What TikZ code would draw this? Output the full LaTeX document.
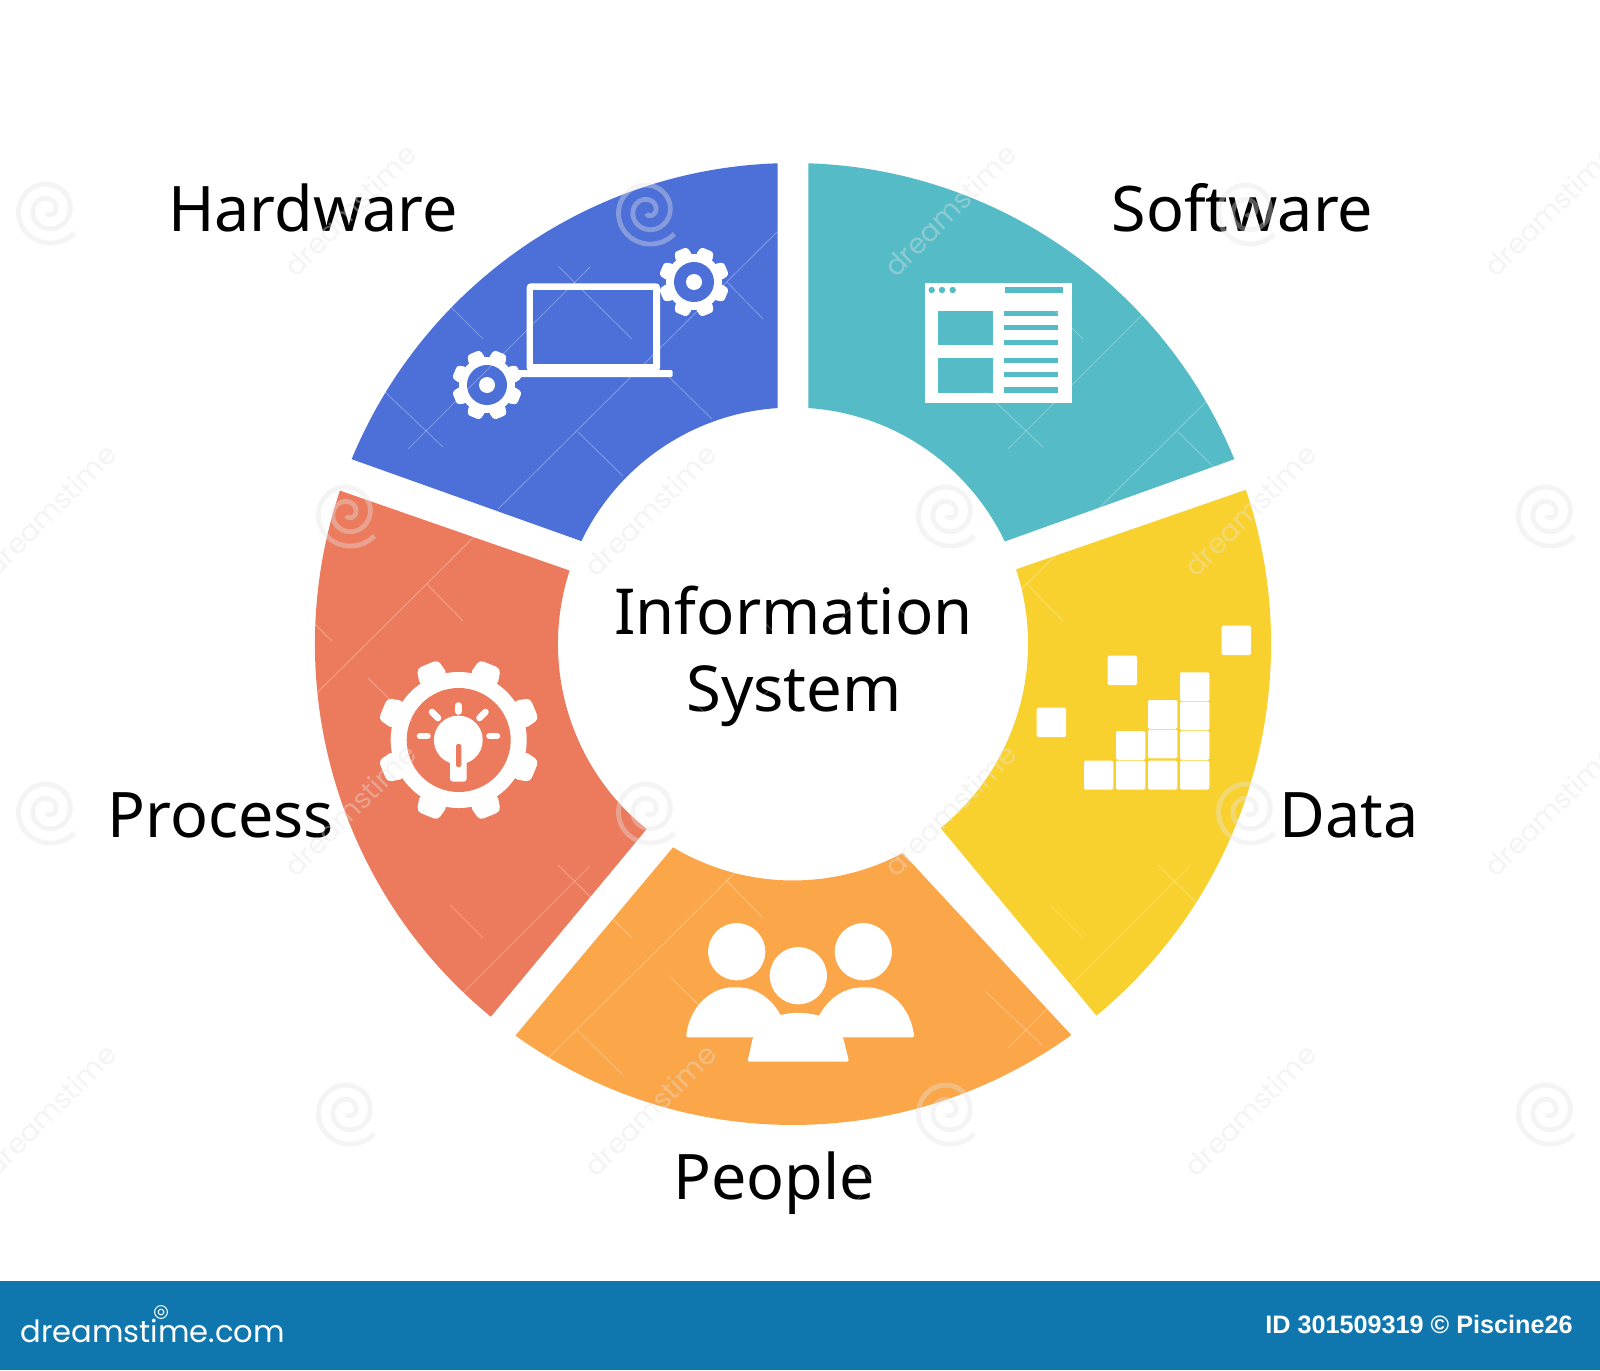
\documentclass[tikz,border=0pt]{standalone}
\usepackage{fontspec}
\setmainfont{Noto Sans}
\newfontfamily\footfont{Liberation Sans}
\newfontfamily\logofont{Poppins}
\definecolor{cblue}{HTML}{4C6FD8}
\definecolor{cteal}{HTML}{55BBC6}
\definecolor{cyellow}{HTML}{F9D12F}
\definecolor{corange}{HTML}{FBA648}
\definecolor{cred}{HTML}{EC7A5C}
\definecolor{cfoot}{HTML}{0F77AE}
\definecolor{cwm}{HTML}{E4E4E4}
\tikzset{
  lbl/.style={anchor=base,inner sep=0pt,text=black,font=\fontsize{31.4}{37}\selectfont},
  lblc/.style={anchor=base,inner sep=0pt,text=black,font=\fontsize{31.7}{37}\selectfont},
  wmline/.style={draw=white,opacity=0.28,line width=0.5pt},
  wmspiral/.style={draw=cwm,opacity=0.38,line width=2.4pt},
  wmtext/.style={inner sep=0pt,text=cwm,text opacity=0.38,rotate=45,font=\logofont\fontsize{14}{16}\selectfont},
}
% segment: colour, outer a1, outer a2, inner a2, inner a1
\newcommand{\segm}[5]{\fill[#1] (#2:240pt) arc[start angle=#2,end angle=#3,radius=240pt] -- (#4:118pt) arc[start angle=#4,end angle=#5,radius=118pt] -- cycle;}
% gear: cx, cy, tip, body, hole, toothw, colour, rotation, corner
\newcommand{\cog}[9]{%
  \begin{scope}[shift={(#1,#2)},rotate=#8]
    \pgfmathsetmacro{\hw}{#6/2}\pgfmathsetmacro{\tw}{#6*0.38}\pgfmathsetmacro{\bs}{#4-3}
    \foreach \ang in {0,45,...,315}{
      \fill[white,rounded corners=#9,rotate=\ang] (-\hw,\bs) -- (-\tw,#3) -- (\tw,#3) -- (\hw,\bs) -- cycle;
    }
    \fill[white] (0,0) circle[radius=#4*0.5pt];
    \fill[#7] (0,0) circle[radius=#5*0.5pt];
  \end{scope}}
\begin{document}
\begin{tikzpicture}[x=0.5pt,y=-0.5pt]
\useasboundingbox (0,0) rectangle (1600,1370);
\fill[white] (0,0) rectangle (1600,1370);
% ring
\begin{scope}[shift={(793,644)},xscale=0.996,yscale=1.002]
  \segm{cblue}{91.84}{157.4}{154.2}{93.76}
  \segm{cteal}{88.16}{22.6}{25.7}{86.24}
  \segm{cyellow}{18.7}{-50.6}{-51.1}{18.4}
  \segm{corange}{-54.4}{-125.5}{-120.7}{-62.2}
  \segm{cred}{230.8}{161.4}{161.9}{231.5}
\end{scope}
% hardware icon
\cog{694}{282}{35}{28}{20}{18}{cblue}{22.5}{1.5pt}
\cog{487}{385}{35}{28}{20}{18}{cblue}{22.5}{1.5pt}
\fill[white] (694,282) circle[radius=4pt];
\fill[white] (487,385) circle[radius=4pt];
\fill[white,rounded corners=2pt] (526.7,283.3) rectangle (660,372);
\fill[cblue] (533,290) rectangle (653,364);
\fill[white,rounded corners=1pt] (510,370) rectangle (672.7,377);
% software icon
\fill[white] (925,283.3) rectangle (1071.7,403.3);
\foreach \px in {931.7,942,952.7}{\fill[cteal] (\px,290) circle[radius=1.6pt];}
\fill[cteal] (1005,286.7) rectangle (1062.7,293.3);
\fill[cteal] (938.3,310.7) rectangle (992.7,345.3);
\fill[cteal] (938.3,357.7) rectangle (992.7,392.7);
\foreach \py in {313.3,327.3,342.7,360.7,374.3,390}{\fill[cteal] (1003.7,\py-2.7) rectangle (1058,\py+2.7);}
% data icon
\foreach \px/\py in {1221.7/625.7,1107.7/655.7,1036.7/707.7}{\fill[white,rounded corners=0.7pt] (\px,\py) rectangle ++(29.3,29.3);}
\foreach \px/\py in {1084/760.7,1116/760.7,1148/760.7,1180/760.7,1116/731,1148/729.5,1180/731,1148/700,1180/701.5,1180/672.3}{\fill[white,rounded corners=0.7pt] (\px,\py) rectangle ++(29.3,28.8);}
% people icon
\fill[white] (736.7,951.7) circle[radius=14.3pt];
\fill[white] (863.3,951.7) circle[radius=14.3pt];
\fill[white] (798.3,975.7) circle[radius=14.3pt];
\fill[white,rounded corners=1pt] (686,1037.3) .. controls (690,1005) and (712,987.3) .. (735,987.3) .. controls (760,987.3) and (775,1003) .. (783,1020) -- (783,1037.3) -- cycle;
\fill[white,rounded corners=1pt] (914.3,1037.3) .. controls (910,1005) and (888,987.3) .. (865,987.3) .. controls (840,987.3) and (825,1003) .. (817,1020) -- (817,1037.3) -- cycle;
\fill[white,rounded corners=1pt] (747.5,1061.7) -- (753,1037) -- (778,1016) .. controls (790,1012) and (806,1012) .. (820,1016) -- (843,1037) -- (849,1061.7) -- cycle;
% process icon
\cog{458.7}{740}{82}{68}{52}{30}{cred}{22.5}{2.2pt}
\fill[white] (458.3,740) circle[radius=12.2pt];
\fill[white,rounded corners=1.5pt] (450,755) rectangle (466.7,781.7);
\fill[cred,rounded corners=1pt] (456,744) rectangle (461.3,767);
\foreach \xa/\ya/\xb/\yb in {458.3/705.5/458.3/711.5,432/712/438/718,485.5/712/479.5/718,420/736/427.5/736,489.5/736/497/736}{
  \draw[white,line width=3.3pt,line cap=round] (\xa,\ya) -- (\xb,\yb);
}
% labels
\node[lbl] (hardware) at (313,231.6) {Hardware};
\node[lbl] (software) at (1242.5,231.6) {Software};
\node[lbl] (data) at (1349,837.8) {Data};
\node[lbl] (process) at (220.8,837.8) {Process};
\node[lbl] (people) at (774,1199) {People};
\node[lblc] (information) at (793.5,634.7) {Information};
\node[lblc] (system) at (794,711) {System};
% watermark: spirals and thin lines
\foreach \cx/\cy in {48/210,648/211,1248/211,348/513,948/513,1548/513,48/810,648/810,1248/810,348/1111,948/1111,1548/1111}{
  \begin{scope}[shift={(\cx,\cy)}]
    \draw[wmspiral] plot[smooth,domain=0:800,samples=70] ({(3+0.04*\x)*cos(841-\x)},{(3+0.04*\x)*sin(841-\x)});
    \draw[wmline] (-240,238) -- (-58,56);
    \draw[wmline] (-150,298) -- (129,21);
    \draw[wmline] (-198,95) -- (-165,128);
    \draw[wmline] (-90,55) -- (-16,128);
    \draw[wmline] (20,165) -- (64,208);
    \draw[wmline] (79,71) -- (115,108);
    \draw[wmline] (-263,181) -- (-205,236);
    \draw[wmline] (-70,221) -- (-25,265);
  \end{scope}
}
% watermark: words
\foreach \cx/\cy [count=\k] in {350/210,950/210,1550/210,50/510,650/510,1250/510,350/810,950/810,1550/810,50/1110,650/1110,1250/1110}{
  \node[wmtext] (wm\k) at (\cx,\cy) {dreamstime};
}
% footer
\fill[cfoot] (0,1280.5) rectangle (1600,1370);
\node[inner sep=0pt,anchor=base west,text=white,font=\logofont\fontsize{15.3}{20}\selectfont] (logo) at (20,1342.7) {dreamstime.com};
\draw[white,line width=0.5pt] (161,1312) circle[radius=3.2pt] (161,1312) circle[radius=1.4pt];
\node[inner sep=0pt,anchor=base east,text=white,font=\footfont\bfseries\fontsize{12.6}{14}\selectfont] (credit) at (1573,1333) {ID 301509319 © Piscine26};
\end{tikzpicture}
\end{document}
